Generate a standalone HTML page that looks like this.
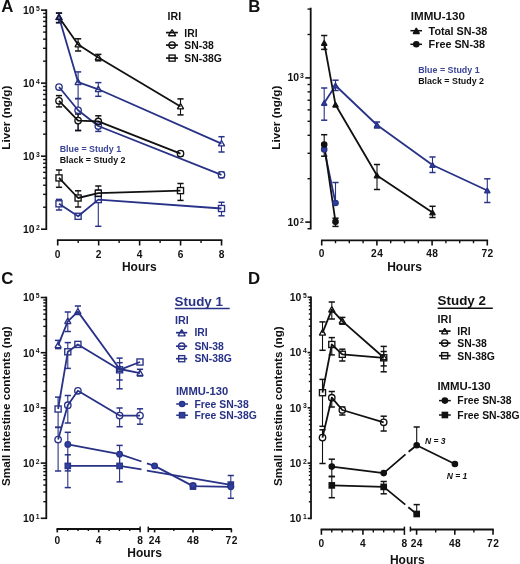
<!DOCTYPE html>
<html><head><meta charset="utf-8"><title>Figure</title>
<style>
html,body{margin:0;padding:0;background:#fff;}
body{width:520px;height:564px;overflow:hidden;}
svg{display:block;font-family:'Liberation Sans', Arial, Helvetica, sans-serif;}
</style></head>
<body>
<svg width="520" height="564" viewBox="0 0 520 564">
<rect width="520" height="564" fill="#fff"/>
<text x="1.2" y="11.9" font-size="16.8" font-weight="bold" text-anchor="start" fill="#111" >A</text>
<text transform="translate(10.3,149.8) rotate(-90)" font-size="11.8" font-weight="bold" fill="#111">Liver (ng/g)</text>
<line x1="46.3" y1="9.3" x2="46.3" y2="230" stroke="#111" stroke-width="1.8"/>
<line x1="41" y1="229.2" x2="46.3" y2="229.2" stroke="#111" stroke-width="1.6"/>
<line x1="41" y1="156.17" x2="46.3" y2="156.17" stroke="#111" stroke-width="1.6"/>
<line x1="41" y1="83.14" x2="46.3" y2="83.14" stroke="#111" stroke-width="1.6"/>
<line x1="41" y1="10.11" x2="46.3" y2="10.11" stroke="#111" stroke-width="1.6"/>
<line x1="43.1" y1="207.22" x2="46.3" y2="207.22" stroke="#111" stroke-width="1.4"/>
<line x1="43.1" y1="194.36" x2="46.3" y2="194.36" stroke="#111" stroke-width="1.4"/>
<line x1="43.1" y1="185.23" x2="46.3" y2="185.23" stroke="#111" stroke-width="1.4"/>
<line x1="43.1" y1="178.15" x2="46.3" y2="178.15" stroke="#111" stroke-width="1.4"/>
<line x1="43.1" y1="172.37" x2="46.3" y2="172.37" stroke="#111" stroke-width="1.4"/>
<line x1="43.1" y1="167.48" x2="46.3" y2="167.48" stroke="#111" stroke-width="1.4"/>
<line x1="43.1" y1="163.25" x2="46.3" y2="163.25" stroke="#111" stroke-width="1.4"/>
<line x1="43.1" y1="159.51" x2="46.3" y2="159.51" stroke="#111" stroke-width="1.4"/>
<line x1="43.1" y1="134.19" x2="46.3" y2="134.19" stroke="#111" stroke-width="1.4"/>
<line x1="43.1" y1="121.33" x2="46.3" y2="121.33" stroke="#111" stroke-width="1.4"/>
<line x1="43.1" y1="112.2" x2="46.3" y2="112.2" stroke="#111" stroke-width="1.4"/>
<line x1="43.1" y1="105.12" x2="46.3" y2="105.12" stroke="#111" stroke-width="1.4"/>
<line x1="43.1" y1="99.34" x2="46.3" y2="99.34" stroke="#111" stroke-width="1.4"/>
<line x1="43.1" y1="94.45" x2="46.3" y2="94.45" stroke="#111" stroke-width="1.4"/>
<line x1="43.1" y1="90.22" x2="46.3" y2="90.22" stroke="#111" stroke-width="1.4"/>
<line x1="43.1" y1="86.48" x2="46.3" y2="86.48" stroke="#111" stroke-width="1.4"/>
<line x1="43.1" y1="61.16" x2="46.3" y2="61.16" stroke="#111" stroke-width="1.4"/>
<line x1="43.1" y1="48.3" x2="46.3" y2="48.3" stroke="#111" stroke-width="1.4"/>
<line x1="43.1" y1="39.17" x2="46.3" y2="39.17" stroke="#111" stroke-width="1.4"/>
<line x1="43.1" y1="32.09" x2="46.3" y2="32.09" stroke="#111" stroke-width="1.4"/>
<line x1="43.1" y1="26.31" x2="46.3" y2="26.31" stroke="#111" stroke-width="1.4"/>
<line x1="43.1" y1="21.42" x2="46.3" y2="21.42" stroke="#111" stroke-width="1.4"/>
<line x1="43.1" y1="17.19" x2="46.3" y2="17.19" stroke="#111" stroke-width="1.4"/>
<line x1="43.1" y1="13.45" x2="46.3" y2="13.45" stroke="#111" stroke-width="1.4"/>
<text x="34.6" y="233" font-size="10.4" font-weight="bold" text-anchor="end" fill="#111" >10</text>
<text x="35.95" y="229.7" font-size="6.8" font-weight="bold" text-anchor="start" fill="#111" >2</text>
<text x="34.6" y="159.97" font-size="10.4" font-weight="bold" text-anchor="end" fill="#111" >10</text>
<text x="35.95" y="156.67" font-size="6.8" font-weight="bold" text-anchor="start" fill="#111" >3</text>
<text x="34.6" y="86.94" font-size="10.4" font-weight="bold" text-anchor="end" fill="#111" >10</text>
<text x="35.95" y="83.64" font-size="6.8" font-weight="bold" text-anchor="start" fill="#111" >4</text>
<text x="34.6" y="13.91" font-size="10.4" font-weight="bold" text-anchor="end" fill="#111" >10</text>
<text x="35.95" y="10.61" font-size="6.8" font-weight="bold" text-anchor="start" fill="#111" >5</text>
<line x1="56.9" y1="240.1" x2="222.3" y2="240.1" stroke="#111" stroke-width="1.8"/>
<line x1="57.7" y1="240.1" x2="57.7" y2="245.5" stroke="#111" stroke-width="1.6"/>
<line x1="98.66" y1="240.1" x2="98.66" y2="245.5" stroke="#111" stroke-width="1.6"/>
<line x1="139.62" y1="240.1" x2="139.62" y2="245.5" stroke="#111" stroke-width="1.6"/>
<line x1="180.58" y1="240.1" x2="180.58" y2="245.5" stroke="#111" stroke-width="1.6"/>
<line x1="221.54" y1="240.1" x2="221.54" y2="245.5" stroke="#111" stroke-width="1.6"/>
<line x1="78.18" y1="240.1" x2="78.18" y2="242.9" stroke="#111" stroke-width="1.4"/>
<line x1="119.14" y1="240.1" x2="119.14" y2="242.9" stroke="#111" stroke-width="1.4"/>
<line x1="160.1" y1="240.1" x2="160.1" y2="242.9" stroke="#111" stroke-width="1.4"/>
<line x1="201.06" y1="240.1" x2="201.06" y2="242.9" stroke="#111" stroke-width="1.4"/>
<text x="57.7" y="257.5" font-size="10.2" font-weight="bold" text-anchor="middle" fill="#111" >0</text>
<text x="98.66" y="257.5" font-size="10.2" font-weight="bold" text-anchor="middle" fill="#111" >2</text>
<text x="139.62" y="257.5" font-size="10.2" font-weight="bold" text-anchor="middle" fill="#111" >4</text>
<text x="180.58" y="257.5" font-size="10.2" font-weight="bold" text-anchor="middle" fill="#111" >6</text>
<text x="221.54" y="257.5" font-size="10.2" font-weight="bold" text-anchor="middle" fill="#111" >8</text>
<text x="139.3" y="271.4" font-size="12.0" font-weight="bold" text-anchor="middle" fill="#111" >Hours</text>
<line x1="59" y1="13.2" x2="59" y2="22.6" stroke="#283286" stroke-width="1.1"/>
<line x1="55.9" y1="13.2" x2="62.1" y2="13.2" stroke="#283286" stroke-width="1.5"/>
<line x1="55.9" y1="22.6" x2="62.1" y2="22.6" stroke="#283286" stroke-width="1.5"/>
<line x1="78.1" y1="71.9" x2="78.1" y2="98.6" stroke="#283286" stroke-width="1.1"/>
<line x1="75" y1="71.9" x2="81.2" y2="71.9" stroke="#283286" stroke-width="1.5"/>
<line x1="75" y1="98.6" x2="81.2" y2="98.6" stroke="#283286" stroke-width="1.5"/>
<line x1="78.1" y1="98.6" x2="78.1" y2="130.4" stroke="#283286" stroke-width="1.1"/>
<line x1="75" y1="98.6" x2="81.2" y2="98.6" stroke="#283286" stroke-width="1.5"/>
<line x1="75" y1="130.4" x2="81.2" y2="130.4" stroke="#283286" stroke-width="1.5"/>
<line x1="98.3" y1="82.6" x2="98.3" y2="96.3" stroke="#283286" stroke-width="1.1"/>
<line x1="95.2" y1="82.6" x2="101.4" y2="82.6" stroke="#283286" stroke-width="1.5"/>
<line x1="95.2" y1="96.3" x2="101.4" y2="96.3" stroke="#283286" stroke-width="1.5"/>
<line x1="98.3" y1="126" x2="98.3" y2="131.4" stroke="#283286" stroke-width="1.1"/>
<line x1="95.2" y1="126" x2="101.4" y2="126" stroke="#283286" stroke-width="1.5"/>
<line x1="95.2" y1="131.4" x2="101.4" y2="131.4" stroke="#283286" stroke-width="1.5"/>
<line x1="221.5" y1="136.7" x2="221.5" y2="152" stroke="#283286" stroke-width="1.1"/>
<line x1="218.4" y1="136.7" x2="224.6" y2="136.7" stroke="#283286" stroke-width="1.5"/>
<line x1="218.4" y1="152" x2="224.6" y2="152" stroke="#283286" stroke-width="1.5"/>
<line x1="221.5" y1="172" x2="221.5" y2="177.6" stroke="#283286" stroke-width="1.1"/>
<line x1="218.4" y1="172" x2="224.6" y2="172" stroke="#283286" stroke-width="1.5"/>
<line x1="218.4" y1="177.6" x2="224.6" y2="177.6" stroke="#283286" stroke-width="1.5"/>
<line x1="59" y1="199.4" x2="59" y2="210" stroke="#283286" stroke-width="1.1"/>
<line x1="55.9" y1="199.4" x2="62.1" y2="199.4" stroke="#283286" stroke-width="1.5"/>
<line x1="55.9" y1="210" x2="62.1" y2="210" stroke="#283286" stroke-width="1.5"/>
<line x1="78.1" y1="214" x2="78.1" y2="218.5" stroke="#283286" stroke-width="1.1"/>
<line x1="75" y1="214" x2="81.2" y2="214" stroke="#283286" stroke-width="1.5"/>
<line x1="75" y1="218.5" x2="81.2" y2="218.5" stroke="#283286" stroke-width="1.5"/>
<line x1="98.3" y1="190" x2="98.3" y2="226.3" stroke="#283286" stroke-width="1.1"/>
<line x1="95.2" y1="190" x2="101.4" y2="190" stroke="#283286" stroke-width="1.5"/>
<line x1="95.2" y1="226.3" x2="101.4" y2="226.3" stroke="#283286" stroke-width="1.5"/>
<line x1="221.5" y1="202.3" x2="221.5" y2="215.8" stroke="#283286" stroke-width="1.1"/>
<line x1="218.4" y1="202.3" x2="224.6" y2="202.3" stroke="#283286" stroke-width="1.5"/>
<line x1="218.4" y1="215.8" x2="224.6" y2="215.8" stroke="#283286" stroke-width="1.5"/>
<line x1="59" y1="13" x2="59" y2="22.7" stroke="#111" stroke-width="1.1"/>
<line x1="55.9" y1="13" x2="62.1" y2="13" stroke="#111" stroke-width="1.5"/>
<line x1="55.9" y1="22.7" x2="62.1" y2="22.7" stroke="#111" stroke-width="1.5"/>
<line x1="78.1" y1="38.8" x2="78.1" y2="51" stroke="#111" stroke-width="1.1"/>
<line x1="75" y1="38.8" x2="81.2" y2="38.8" stroke="#111" stroke-width="1.5"/>
<line x1="75" y1="51" x2="81.2" y2="51" stroke="#111" stroke-width="1.5"/>
<line x1="98.3" y1="54.4" x2="98.3" y2="60.8" stroke="#111" stroke-width="1.1"/>
<line x1="95.2" y1="54.4" x2="101.4" y2="54.4" stroke="#111" stroke-width="1.5"/>
<line x1="95.2" y1="60.8" x2="101.4" y2="60.8" stroke="#111" stroke-width="1.5"/>
<line x1="180.5" y1="98.9" x2="180.5" y2="114.9" stroke="#111" stroke-width="1.1"/>
<line x1="177.4" y1="98.9" x2="183.6" y2="98.9" stroke="#111" stroke-width="1.5"/>
<line x1="177.4" y1="114.9" x2="183.6" y2="114.9" stroke="#111" stroke-width="1.5"/>
<line x1="59" y1="95.6" x2="59" y2="106.9" stroke="#111" stroke-width="1.1"/>
<line x1="55.9" y1="95.6" x2="62.1" y2="95.6" stroke="#111" stroke-width="1.5"/>
<line x1="55.9" y1="106.9" x2="62.1" y2="106.9" stroke="#111" stroke-width="1.5"/>
<line x1="78.1" y1="114" x2="78.1" y2="130.6" stroke="#111" stroke-width="1.1"/>
<line x1="75" y1="114" x2="81.2" y2="114" stroke="#111" stroke-width="1.5"/>
<line x1="75" y1="130.6" x2="81.2" y2="130.6" stroke="#111" stroke-width="1.5"/>
<line x1="98.3" y1="115.8" x2="98.3" y2="127" stroke="#111" stroke-width="1.1"/>
<line x1="95.2" y1="115.8" x2="101.4" y2="115.8" stroke="#111" stroke-width="1.5"/>
<line x1="95.2" y1="127" x2="101.4" y2="127" stroke="#111" stroke-width="1.5"/>
<line x1="180.5" y1="151.5" x2="180.5" y2="155.7" stroke="#111" stroke-width="1.1"/>
<line x1="177.4" y1="151.5" x2="183.6" y2="151.5" stroke="#111" stroke-width="1.5"/>
<line x1="177.4" y1="155.7" x2="183.6" y2="155.7" stroke="#111" stroke-width="1.5"/>
<line x1="59" y1="170" x2="59" y2="187.3" stroke="#111" stroke-width="1.1"/>
<line x1="55.9" y1="170" x2="62.1" y2="170" stroke="#111" stroke-width="1.5"/>
<line x1="55.9" y1="187.3" x2="62.1" y2="187.3" stroke="#111" stroke-width="1.5"/>
<line x1="78.1" y1="190.8" x2="78.1" y2="207" stroke="#111" stroke-width="1.1"/>
<line x1="75" y1="190.8" x2="81.2" y2="190.8" stroke="#111" stroke-width="1.5"/>
<line x1="75" y1="207" x2="81.2" y2="207" stroke="#111" stroke-width="1.5"/>
<line x1="98.3" y1="186" x2="98.3" y2="201" stroke="#111" stroke-width="1.1"/>
<line x1="95.2" y1="186" x2="101.4" y2="186" stroke="#111" stroke-width="1.5"/>
<line x1="95.2" y1="201" x2="101.4" y2="201" stroke="#111" stroke-width="1.5"/>
<line x1="180.5" y1="183.5" x2="180.5" y2="200.4" stroke="#111" stroke-width="1.1"/>
<line x1="177.4" y1="183.5" x2="183.6" y2="183.5" stroke="#111" stroke-width="1.5"/>
<line x1="177.4" y1="200.4" x2="183.6" y2="200.4" stroke="#111" stroke-width="1.5"/>
<polygon points="78.1,79.07 81.2,84.47 75,84.47" stroke-linejoin="bevel" fill="#fff" stroke="none"/>
<polygon points="98.3,86.17 101.4,91.57 95.2,91.57" stroke-linejoin="bevel" fill="#fff" stroke="none"/>
<polygon points="221.5,140.47 224.6,145.87 218.4,145.87" stroke-linejoin="bevel" fill="#fff" stroke="none"/>
<circle cx="59" cy="87" r="3.2" fill="#fff" stroke="none"/>
<circle cx="78.1" cy="110.3" r="3.2" fill="#fff" stroke="none"/>
<circle cx="98.3" cy="126" r="3.2" fill="#fff" stroke="none"/>
<circle cx="221.5" cy="174.8" r="3.2" fill="#fff" stroke="none"/>
<rect x="55.95" y="200.75" width="6.1" height="6.1" fill="#fff" stroke="none"/>
<rect x="75.05" y="213.25" width="6.1" height="6.1" fill="#fff" stroke="none"/>
<rect x="95.25" y="196.55" width="6.1" height="6.1" fill="#fff" stroke="none"/>
<rect x="218.45" y="205.45" width="6.1" height="6.1" fill="#fff" stroke="none"/>
<polygon points="59,14.17 62.1,19.57 55.9,19.57" stroke-linejoin="bevel" fill="#fff" stroke="none"/>
<polygon points="78.1,41.47 81.2,46.87 75,46.87" stroke-linejoin="bevel" fill="#fff" stroke="none"/>
<polygon points="98.3,54.47 101.4,59.87 95.2,59.87" stroke-linejoin="bevel" fill="#fff" stroke="none"/>
<polygon points="180.5,103.47 183.6,108.87 177.4,108.87" stroke-linejoin="bevel" fill="#fff" stroke="none"/>
<circle cx="59" cy="100.8" r="3.2" fill="#fff" stroke="none"/>
<circle cx="78.1" cy="120.6" r="3.2" fill="#fff" stroke="none"/>
<circle cx="98.3" cy="121.4" r="3.2" fill="#fff" stroke="none"/>
<circle cx="180.5" cy="153.6" r="3.2" fill="#fff" stroke="none"/>
<rect x="55.95" y="174.85" width="6.1" height="6.1" fill="#fff" stroke="none"/>
<rect x="75.05" y="194.95" width="6.1" height="6.1" fill="#fff" stroke="none"/>
<rect x="95.25" y="190.15" width="6.1" height="6.1" fill="#fff" stroke="none"/>
<rect x="177.45" y="187.55" width="6.1" height="6.1" fill="#fff" stroke="none"/>
<polyline points="59,17.3 78.1,82.2 98.3,89.3 221.5,143.6" fill="none" stroke="#283286" stroke-width="1.8" stroke-linejoin="round"/>
<polyline points="59,87 78.1,110.3 98.3,126 221.5,174.8" fill="none" stroke="#283286" stroke-width="1.8" stroke-linejoin="round"/>
<polyline points="59,203.8 78.1,216.3 98.3,199.6 221.5,208.5" fill="none" stroke="#283286" stroke-width="1.8" stroke-linejoin="round"/>
<polyline points="59,17.3 78.1,44.6 98.3,57.6 180.5,106.6" fill="none" stroke="#111" stroke-width="1.8" stroke-linejoin="round"/>
<polyline points="59,100.8 78.1,120.6 98.3,121.4 180.5,153.6" fill="none" stroke="#111" stroke-width="1.8" stroke-linejoin="round"/>
<polyline points="59,177.9 78.1,198 98.3,193.2 180.5,190.6" fill="none" stroke="#111" stroke-width="1.8" stroke-linejoin="round"/>
<polygon points="78.1,79.07 81.2,84.47 75,84.47" stroke-linejoin="bevel" fill="none" stroke="#283286" stroke-width="1.35"/>
<polygon points="98.3,86.17 101.4,91.57 95.2,91.57" stroke-linejoin="bevel" fill="none" stroke="#283286" stroke-width="1.35"/>
<polygon points="221.5,140.47 224.6,145.87 218.4,145.87" stroke-linejoin="bevel" fill="none" stroke="#283286" stroke-width="1.35"/>
<circle cx="59" cy="87" r="3.2" fill="none" stroke="#283286" stroke-width="1.35"/>
<circle cx="78.1" cy="110.3" r="3.2" fill="none" stroke="#283286" stroke-width="1.35"/>
<circle cx="98.3" cy="126" r="3.2" fill="none" stroke="#283286" stroke-width="1.35"/>
<circle cx="221.5" cy="174.8" r="3.2" fill="none" stroke="#283286" stroke-width="1.35"/>
<rect x="55.95" y="200.75" width="6.1" height="6.1" fill="none" stroke="#283286" stroke-width="1.35"/>
<rect x="75.05" y="213.25" width="6.1" height="6.1" fill="none" stroke="#283286" stroke-width="1.35"/>
<rect x="95.25" y="196.55" width="6.1" height="6.1" fill="none" stroke="#283286" stroke-width="1.35"/>
<rect x="218.45" y="205.45" width="6.1" height="6.1" fill="none" stroke="#283286" stroke-width="1.35"/>
<polygon points="59,14.17 62.1,19.57 55.9,19.57" stroke-linejoin="bevel" fill="none" stroke="#283286" stroke-width="1.35"/>
<polygon points="78.1,41.47 81.2,46.87 75,46.87" stroke-linejoin="bevel" fill="none" stroke="#111" stroke-width="1.35"/>
<polygon points="98.3,54.47 101.4,59.87 95.2,59.87" stroke-linejoin="bevel" fill="none" stroke="#111" stroke-width="1.35"/>
<polygon points="180.5,103.47 183.6,108.87 177.4,108.87" stroke-linejoin="bevel" fill="none" stroke="#111" stroke-width="1.35"/>
<polygon points="59,14.6 61.6,19.3 56.4,19.3" fill="#7a7fb0" stroke="#15193f" stroke-width="1.5"/>
<circle cx="59" cy="100.8" r="3.2" fill="none" stroke="#111" stroke-width="1.35"/>
<circle cx="78.1" cy="120.6" r="3.2" fill="none" stroke="#111" stroke-width="1.35"/>
<circle cx="98.3" cy="121.4" r="3.2" fill="none" stroke="#111" stroke-width="1.35"/>
<circle cx="180.5" cy="153.6" r="3.2" fill="none" stroke="#111" stroke-width="1.35"/>
<rect x="55.95" y="174.85" width="6.1" height="6.1" fill="none" stroke="#111" stroke-width="1.35"/>
<rect x="75.05" y="194.95" width="6.1" height="6.1" fill="none" stroke="#111" stroke-width="1.35"/>
<rect x="95.25" y="190.15" width="6.1" height="6.1" fill="none" stroke="#111" stroke-width="1.35"/>
<rect x="177.45" y="187.55" width="6.1" height="6.1" fill="none" stroke="#111" stroke-width="1.35"/>
<text x="167.6" y="19.8" font-size="10.6" font-weight="bold" text-anchor="start" fill="#111" >IRI</text>
<text x="184.3" y="37.3" font-size="10.4" font-weight="bold" text-anchor="start" fill="#111" >IRI</text>
<text x="184.3" y="49.2" font-size="10.4" font-weight="bold" text-anchor="start" fill="#111" >SN-38</text>
<text x="184.3" y="61.9" font-size="10.4" font-weight="bold" text-anchor="start" fill="#111" >SN-38G</text>
<text x="59.7" y="152.3" font-size="8.9" font-weight="bold" text-anchor="start" fill="#3a4596" >Blue = Study 1</text>
<text x="59.7" y="162.7" font-size="8.9" font-weight="bold" text-anchor="start" fill="#111" >Black = Study 2</text>
<polygon points="172.1,29.5 175.66,35.7 168.53,35.7" stroke-linejoin="bevel" fill="#fff" stroke="none"/>
<circle cx="172.1" cy="45.1" r="3.2" fill="#fff" stroke="none"/>
<rect x="169.05" y="55.05" width="6.1" height="6.1" fill="#fff" stroke="none"/>
<line x1="166" y1="32.6" x2="177.9" y2="32.6" stroke="#111" stroke-width="1.7"/>
<line x1="166" y1="45.1" x2="177.9" y2="45.1" stroke="#111" stroke-width="1.7"/>
<line x1="166" y1="58.1" x2="177.9" y2="58.1" stroke="#111" stroke-width="1.7"/>
<polygon points="172.1,29.5 175.66,35.7 168.53,35.7" stroke-linejoin="bevel" fill="none" stroke="#111" stroke-width="1.35"/>
<circle cx="172.1" cy="45.1" r="3.2" fill="none" stroke="#111" stroke-width="1.35"/>
<rect x="169.05" y="55.05" width="6.1" height="6.1" fill="none" stroke="#111" stroke-width="1.35"/>
<text x="248.3" y="11.9" font-size="16.8" font-weight="bold" text-anchor="start" fill="#111" >B</text>
<text transform="translate(280.3,149.8) rotate(-90)" font-size="11.8" font-weight="bold" fill="#111">Liver (ng/g)</text>
<line x1="310.7" y1="7.7" x2="310.7" y2="229.5" stroke="#111" stroke-width="1.8"/>
<line x1="305.3" y1="222.1" x2="310.7" y2="222.1" stroke="#111" stroke-width="1.6"/>
<line x1="305.3" y1="77.9" x2="310.7" y2="77.9" stroke="#111" stroke-width="1.6"/>
<line x1="307.5" y1="228.7" x2="310.7" y2="228.7" stroke="#111" stroke-width="1.4"/>
<line x1="307.5" y1="178.69" x2="310.7" y2="178.69" stroke="#111" stroke-width="1.4"/>
<line x1="307.5" y1="153.3" x2="310.7" y2="153.3" stroke="#111" stroke-width="1.4"/>
<line x1="307.5" y1="135.28" x2="310.7" y2="135.28" stroke="#111" stroke-width="1.4"/>
<line x1="307.5" y1="121.31" x2="310.7" y2="121.31" stroke="#111" stroke-width="1.4"/>
<line x1="307.5" y1="109.89" x2="310.7" y2="109.89" stroke="#111" stroke-width="1.4"/>
<line x1="307.5" y1="100.24" x2="310.7" y2="100.24" stroke="#111" stroke-width="1.4"/>
<line x1="307.5" y1="91.87" x2="310.7" y2="91.87" stroke="#111" stroke-width="1.4"/>
<line x1="307.5" y1="84.5" x2="310.7" y2="84.5" stroke="#111" stroke-width="1.4"/>
<line x1="307.5" y1="34.49" x2="310.7" y2="34.49" stroke="#111" stroke-width="1.4"/>
<line x1="307.5" y1="9.1" x2="310.7" y2="9.1" stroke="#111" stroke-width="1.4"/>
<text x="299" y="81.4" font-size="10.4" font-weight="bold" text-anchor="end" fill="#111" >10</text>
<text x="300" y="78.3" font-size="6.8" font-weight="bold" text-anchor="start" fill="#111" >3</text>
<text x="299" y="225.6" font-size="10.4" font-weight="bold" text-anchor="end" fill="#111" >10</text>
<text x="300" y="222.5" font-size="6.8" font-weight="bold" text-anchor="start" fill="#111" >2</text>
<line x1="321" y1="240.3" x2="488.1" y2="240.3" stroke="#111" stroke-width="1.8"/>
<line x1="321.7" y1="240.3" x2="321.7" y2="245.5" stroke="#111" stroke-width="1.6"/>
<line x1="376.9" y1="240.3" x2="376.9" y2="245.5" stroke="#111" stroke-width="1.6"/>
<line x1="432.1" y1="240.3" x2="432.1" y2="245.5" stroke="#111" stroke-width="1.6"/>
<line x1="487.3" y1="240.3" x2="487.3" y2="245.5" stroke="#111" stroke-width="1.6"/>
<line x1="335.5" y1="240.3" x2="335.5" y2="243.2" stroke="#111" stroke-width="1.4"/>
<line x1="349.3" y1="240.3" x2="349.3" y2="243.2" stroke="#111" stroke-width="1.4"/>
<line x1="363.1" y1="240.3" x2="363.1" y2="243.2" stroke="#111" stroke-width="1.4"/>
<line x1="390.7" y1="240.3" x2="390.7" y2="243.2" stroke="#111" stroke-width="1.4"/>
<line x1="404.5" y1="240.3" x2="404.5" y2="243.2" stroke="#111" stroke-width="1.4"/>
<line x1="418.3" y1="240.3" x2="418.3" y2="243.2" stroke="#111" stroke-width="1.4"/>
<line x1="445.9" y1="240.3" x2="445.9" y2="243.2" stroke="#111" stroke-width="1.4"/>
<line x1="459.7" y1="240.3" x2="459.7" y2="243.2" stroke="#111" stroke-width="1.4"/>
<line x1="473.5" y1="240.3" x2="473.5" y2="243.2" stroke="#111" stroke-width="1.4"/>
<text x="321.7" y="257.1" font-size="10.2" font-weight="bold" text-anchor="middle" fill="#111" >0</text>
<text x="377.15" y="257.1" font-size="10.2" font-weight="bold" text-anchor="middle" fill="#111" letter-spacing="0.5">24</text>
<text x="432.35" y="257.1" font-size="10.2" font-weight="bold" text-anchor="middle" fill="#111" letter-spacing="0.5">48</text>
<text x="487.55" y="257.1" font-size="10.2" font-weight="bold" text-anchor="middle" fill="#111" letter-spacing="0.5">72</text>
<text x="404.5" y="271.4" font-size="12.0" font-weight="bold" text-anchor="middle" fill="#111" >Hours</text>
<line x1="324.2" y1="88" x2="324.2" y2="120.2" stroke="#283286" stroke-width="1.1"/>
<line x1="321.1" y1="88" x2="327.3" y2="88" stroke="#283286" stroke-width="1.5"/>
<line x1="321.1" y1="120.2" x2="327.3" y2="120.2" stroke="#283286" stroke-width="1.5"/>
<line x1="335.5" y1="80.2" x2="335.5" y2="90.5" stroke="#283286" stroke-width="1.1"/>
<line x1="332.4" y1="80.2" x2="338.6" y2="80.2" stroke="#283286" stroke-width="1.5"/>
<line x1="332.4" y1="90.5" x2="338.6" y2="90.5" stroke="#283286" stroke-width="1.5"/>
<line x1="377" y1="122" x2="377" y2="128" stroke="#283286" stroke-width="1.1"/>
<line x1="373.9" y1="122" x2="380.1" y2="122" stroke="#283286" stroke-width="1.5"/>
<line x1="373.9" y1="128" x2="380.1" y2="128" stroke="#283286" stroke-width="1.5"/>
<line x1="432.5" y1="157" x2="432.5" y2="172.5" stroke="#283286" stroke-width="1.1"/>
<line x1="429.4" y1="157" x2="435.6" y2="157" stroke="#283286" stroke-width="1.5"/>
<line x1="429.4" y1="172.5" x2="435.6" y2="172.5" stroke="#283286" stroke-width="1.5"/>
<line x1="487.3" y1="178.8" x2="487.3" y2="202.5" stroke="#283286" stroke-width="1.1"/>
<line x1="484.2" y1="178.8" x2="490.4" y2="178.8" stroke="#283286" stroke-width="1.5"/>
<line x1="484.2" y1="202.5" x2="490.4" y2="202.5" stroke="#283286" stroke-width="1.5"/>
<line x1="335.5" y1="182.5" x2="335.5" y2="203" stroke="#283286" stroke-width="1.1"/>
<line x1="332.4" y1="182.5" x2="338.6" y2="182.5" stroke="#283286" stroke-width="1.5"/>
<line x1="324.2" y1="35.5" x2="324.2" y2="49.4" stroke="#111" stroke-width="1.1"/>
<line x1="321.1" y1="35.5" x2="327.3" y2="35.5" stroke="#111" stroke-width="1.5"/>
<line x1="321.1" y1="49.4" x2="327.3" y2="49.4" stroke="#111" stroke-width="1.5"/>
<line x1="377" y1="164.5" x2="377" y2="189.5" stroke="#111" stroke-width="1.1"/>
<line x1="373.9" y1="164.5" x2="380.1" y2="164.5" stroke="#111" stroke-width="1.5"/>
<line x1="373.9" y1="189.5" x2="380.1" y2="189.5" stroke="#111" stroke-width="1.5"/>
<line x1="432.5" y1="206.3" x2="432.5" y2="217.5" stroke="#111" stroke-width="1.1"/>
<line x1="429.4" y1="206.3" x2="435.6" y2="206.3" stroke="#111" stroke-width="1.5"/>
<line x1="429.4" y1="217.5" x2="435.6" y2="217.5" stroke="#111" stroke-width="1.5"/>
<line x1="324.2" y1="134.7" x2="324.2" y2="156.2" stroke="#111" stroke-width="1.1"/>
<line x1="321.1" y1="134.7" x2="327.3" y2="134.7" stroke="#111" stroke-width="1.5"/>
<line x1="321.1" y1="156.2" x2="327.3" y2="156.2" stroke="#111" stroke-width="1.5"/>
<line x1="335.5" y1="218.2" x2="335.5" y2="226.4" stroke="#111" stroke-width="1.1"/>
<line x1="332.4" y1="218.2" x2="338.6" y2="218.2" stroke="#111" stroke-width="1.5"/>
<line x1="332.4" y1="226.4" x2="338.6" y2="226.4" stroke="#111" stroke-width="1.5"/>
<polyline points="324.2,103 335.5,85.5 377,125 432.5,165 487.3,190.5" fill="none" stroke="#283286" stroke-width="1.8" stroke-linejoin="round"/>
<polyline points="324.2,149.4 335.5,203" fill="none" stroke="#283286" stroke-width="1.8" stroke-linejoin="round"/>
<polyline points="324.2,43 335.5,104.7 377,175.5 432.5,212.5" fill="none" stroke="#111" stroke-width="1.8" stroke-linejoin="round"/>
<polyline points="324.2,144.5 335.5,221.8" fill="none" stroke="#111" stroke-width="1.8" stroke-linejoin="round"/>
<polygon points="324.2,100.54 326.93,105.3 321.47,105.3" stroke-linejoin="bevel" fill="#30409e" stroke="#283286" stroke-width="1.35"/>
<polygon points="335.5,83.04 338.23,87.8 332.77,87.8" stroke-linejoin="bevel" fill="#30409e" stroke="#283286" stroke-width="1.35"/>
<polygon points="377,122.54 379.73,127.3 374.27,127.3" stroke-linejoin="bevel" fill="#30409e" stroke="#283286" stroke-width="1.35"/>
<polygon points="432.5,162.54 435.23,167.3 429.77,167.3" stroke-linejoin="bevel" fill="#30409e" stroke="#283286" stroke-width="1.35"/>
<polygon points="487.3,188.04 490.03,192.8 484.57,192.8" stroke-linejoin="bevel" fill="#30409e" stroke="#283286" stroke-width="1.35"/>
<circle cx="324.2" cy="149.4" r="2.65" fill="#30409e" stroke="#283286" stroke-width="1.35"/>
<circle cx="335.5" cy="203" r="2.65" fill="#30409e" stroke="#283286" stroke-width="1.35"/>
<polygon points="324.2,40.54 326.93,45.3 321.47,45.3" stroke-linejoin="bevel" fill="#111" stroke="#111" stroke-width="1.35"/>
<polygon points="335.5,102.24 338.23,107 332.77,107" stroke-linejoin="bevel" fill="#111" stroke="#111" stroke-width="1.35"/>
<polygon points="377,173.04 379.73,177.8 374.27,177.8" stroke-linejoin="bevel" fill="#111" stroke="#111" stroke-width="1.35"/>
<polygon points="432.5,210.04 435.23,214.8 429.77,214.8" stroke-linejoin="bevel" fill="#111" stroke="#111" stroke-width="1.35"/>
<circle cx="324.2" cy="144.5" r="2.65" fill="#111" stroke="#111" stroke-width="1.35"/>
<circle cx="335.5" cy="221.8" r="2.65" fill="#111" stroke="#111" stroke-width="1.35"/>
<text x="410.8" y="19.6" font-size="11.6" font-weight="bold" text-anchor="start" fill="#111" >IMMU-130</text>
<text x="428.6" y="34.6" font-size="10.8" font-weight="bold" text-anchor="start" fill="#111" >Total SN-38</text>
<text x="428.6" y="48.2" font-size="10.8" font-weight="bold" text-anchor="start" fill="#111" >Free SN-38</text>
<text x="418.2" y="73.4" font-size="8.9" font-weight="bold" text-anchor="start" fill="#3a4596" >Blue = Study 1</text>
<text x="418.2" y="84.3" font-size="8.9" font-weight="bold" text-anchor="start" fill="#111" >Black = Study 2</text>
<line x1="410.4" y1="30.7" x2="422" y2="30.7" stroke="#111" stroke-width="1.5"/>
<line x1="410.4" y1="44.3" x2="422" y2="44.3" stroke="#111" stroke-width="1.5"/>
<polygon points="416.3,28.2 419.4,33.6 413.2,33.6" stroke-linejoin="bevel" fill="#111" stroke="#111" stroke-width="1.35"/>
<circle cx="416.3" cy="44.3" r="2.65" fill="#111" stroke="#111" stroke-width="1.35"/>
<text x="1.2" y="283.6" font-size="16.8" font-weight="bold" text-anchor="start" fill="#111" >C</text>
<text transform="translate(9.5,486) rotate(-90)" font-size="11.7" font-weight="bold" fill="#111">Small intestine contents (ng)</text>
<line x1="46.3" y1="296.7" x2="46.3" y2="519.1" stroke="#111" stroke-width="1.8"/>
<line x1="40.7" y1="518.3" x2="46.3" y2="518.3" stroke="#111" stroke-width="1.6"/>
<line x1="40.7" y1="463.1" x2="46.3" y2="463.1" stroke="#111" stroke-width="1.6"/>
<line x1="40.7" y1="407.9" x2="46.3" y2="407.9" stroke="#111" stroke-width="1.6"/>
<line x1="40.7" y1="352.7" x2="46.3" y2="352.7" stroke="#111" stroke-width="1.6"/>
<line x1="40.7" y1="297.5" x2="46.3" y2="297.5" stroke="#111" stroke-width="1.6"/>
<line x1="43.3" y1="501.68" x2="46.3" y2="501.68" stroke="#111" stroke-width="1.4"/>
<line x1="43.3" y1="491.96" x2="46.3" y2="491.96" stroke="#111" stroke-width="1.4"/>
<line x1="43.3" y1="485.07" x2="46.3" y2="485.07" stroke="#111" stroke-width="1.4"/>
<line x1="43.3" y1="479.72" x2="46.3" y2="479.72" stroke="#111" stroke-width="1.4"/>
<line x1="43.3" y1="475.35" x2="46.3" y2="475.35" stroke="#111" stroke-width="1.4"/>
<line x1="43.3" y1="471.65" x2="46.3" y2="471.65" stroke="#111" stroke-width="1.4"/>
<line x1="43.3" y1="468.45" x2="46.3" y2="468.45" stroke="#111" stroke-width="1.4"/>
<line x1="43.3" y1="465.63" x2="46.3" y2="465.63" stroke="#111" stroke-width="1.4"/>
<line x1="43.3" y1="446.48" x2="46.3" y2="446.48" stroke="#111" stroke-width="1.4"/>
<line x1="43.3" y1="436.76" x2="46.3" y2="436.76" stroke="#111" stroke-width="1.4"/>
<line x1="43.3" y1="429.87" x2="46.3" y2="429.87" stroke="#111" stroke-width="1.4"/>
<line x1="43.3" y1="424.52" x2="46.3" y2="424.52" stroke="#111" stroke-width="1.4"/>
<line x1="43.3" y1="420.15" x2="46.3" y2="420.15" stroke="#111" stroke-width="1.4"/>
<line x1="43.3" y1="416.45" x2="46.3" y2="416.45" stroke="#111" stroke-width="1.4"/>
<line x1="43.3" y1="413.25" x2="46.3" y2="413.25" stroke="#111" stroke-width="1.4"/>
<line x1="43.3" y1="410.43" x2="46.3" y2="410.43" stroke="#111" stroke-width="1.4"/>
<line x1="43.3" y1="391.28" x2="46.3" y2="391.28" stroke="#111" stroke-width="1.4"/>
<line x1="43.3" y1="381.56" x2="46.3" y2="381.56" stroke="#111" stroke-width="1.4"/>
<line x1="43.3" y1="374.67" x2="46.3" y2="374.67" stroke="#111" stroke-width="1.4"/>
<line x1="43.3" y1="369.32" x2="46.3" y2="369.32" stroke="#111" stroke-width="1.4"/>
<line x1="43.3" y1="364.95" x2="46.3" y2="364.95" stroke="#111" stroke-width="1.4"/>
<line x1="43.3" y1="361.25" x2="46.3" y2="361.25" stroke="#111" stroke-width="1.4"/>
<line x1="43.3" y1="358.05" x2="46.3" y2="358.05" stroke="#111" stroke-width="1.4"/>
<line x1="43.3" y1="355.23" x2="46.3" y2="355.23" stroke="#111" stroke-width="1.4"/>
<line x1="43.3" y1="336.08" x2="46.3" y2="336.08" stroke="#111" stroke-width="1.4"/>
<line x1="43.3" y1="326.36" x2="46.3" y2="326.36" stroke="#111" stroke-width="1.4"/>
<line x1="43.3" y1="319.47" x2="46.3" y2="319.47" stroke="#111" stroke-width="1.4"/>
<line x1="43.3" y1="314.12" x2="46.3" y2="314.12" stroke="#111" stroke-width="1.4"/>
<line x1="43.3" y1="309.75" x2="46.3" y2="309.75" stroke="#111" stroke-width="1.4"/>
<line x1="43.3" y1="306.05" x2="46.3" y2="306.05" stroke="#111" stroke-width="1.4"/>
<line x1="43.3" y1="302.85" x2="46.3" y2="302.85" stroke="#111" stroke-width="1.4"/>
<line x1="43.3" y1="300.03" x2="46.3" y2="300.03" stroke="#111" stroke-width="1.4"/>
<text x="34.5" y="522.1" font-size="10.4" font-weight="bold" text-anchor="end" fill="#111" >10</text>
<text x="35.85" y="518.8" font-size="6.8" font-weight="bold" text-anchor="start" fill="#111" >1</text>
<text x="34.5" y="466.9" font-size="10.4" font-weight="bold" text-anchor="end" fill="#111" >10</text>
<text x="35.85" y="463.6" font-size="6.8" font-weight="bold" text-anchor="start" fill="#111" >2</text>
<text x="34.5" y="411.7" font-size="10.4" font-weight="bold" text-anchor="end" fill="#111" >10</text>
<text x="35.85" y="408.4" font-size="6.8" font-weight="bold" text-anchor="start" fill="#111" >3</text>
<text x="34.5" y="356.5" font-size="10.4" font-weight="bold" text-anchor="end" fill="#111" >10</text>
<text x="35.85" y="353.2" font-size="6.8" font-weight="bold" text-anchor="start" fill="#111" >4</text>
<text x="34.5" y="301.3" font-size="10.4" font-weight="bold" text-anchor="end" fill="#111" >10</text>
<text x="35.85" y="298" font-size="6.8" font-weight="bold" text-anchor="start" fill="#111" >5</text>
<line x1="56.5" y1="529" x2="140.1" y2="529" stroke="#111" stroke-width="1.8"/>
<line x1="148.3" y1="529" x2="231.8" y2="529" stroke="#111" stroke-width="1.8"/>
<line x1="140.1" y1="526.6" x2="140.1" y2="532.2" stroke="#111" stroke-width="1.5"/>
<line x1="148.3" y1="526.6" x2="148.3" y2="532.2" stroke="#111" stroke-width="1.5"/>
<line x1="57.3" y1="529" x2="57.3" y2="532.4" stroke="#111" stroke-width="1.6"/>
<line x1="98.7" y1="529" x2="98.7" y2="532.4" stroke="#111" stroke-width="1.6"/>
<line x1="154.6" y1="529" x2="154.6" y2="532.4" stroke="#111" stroke-width="1.6"/>
<line x1="193" y1="529" x2="193" y2="532.4" stroke="#111" stroke-width="1.6"/>
<line x1="231.4" y1="529" x2="231.4" y2="532.4" stroke="#111" stroke-width="1.6"/>
<line x1="67.65" y1="529" x2="67.65" y2="531" stroke="#111" stroke-width="1.4"/>
<line x1="78" y1="529" x2="78" y2="531" stroke="#111" stroke-width="1.4"/>
<line x1="88.35" y1="529" x2="88.35" y2="531" stroke="#111" stroke-width="1.4"/>
<line x1="109.05" y1="529" x2="109.05" y2="531" stroke="#111" stroke-width="1.4"/>
<line x1="119.4" y1="529" x2="119.4" y2="531" stroke="#111" stroke-width="1.4"/>
<line x1="129.75" y1="529" x2="129.75" y2="531" stroke="#111" stroke-width="1.4"/>
<line x1="173.8" y1="529" x2="173.8" y2="531" stroke="#111" stroke-width="1.4"/>
<line x1="212.2" y1="529" x2="212.2" y2="531" stroke="#111" stroke-width="1.4"/>
<text x="57.3" y="543.6" font-size="10.2" font-weight="bold" text-anchor="middle" fill="#111" >0</text>
<text x="98.7" y="543.6" font-size="10.2" font-weight="bold" text-anchor="middle" fill="#111" >4</text>
<text x="140.1" y="543.6" font-size="10.2" font-weight="bold" text-anchor="middle" fill="#111" >8</text>
<text x="154.85" y="543.6" font-size="10.2" font-weight="bold" text-anchor="middle" fill="#111" letter-spacing="0.5">24</text>
<text x="193.25" y="543.6" font-size="10.2" font-weight="bold" text-anchor="middle" fill="#111" letter-spacing="0.5">48</text>
<text x="231.65" y="543.6" font-size="10.2" font-weight="bold" text-anchor="middle" fill="#111" letter-spacing="0.5">72</text>
<text x="144.6" y="556.6" font-size="12.0" font-weight="bold" text-anchor="middle" fill="#111" >Hours</text>
<line x1="58.1" y1="340.4" x2="58.1" y2="348.6" stroke="#283286" stroke-width="1.1"/>
<line x1="55" y1="340.4" x2="61.2" y2="340.4" stroke="#283286" stroke-width="1.5"/>
<line x1="55" y1="348.6" x2="61.2" y2="348.6" stroke="#283286" stroke-width="1.5"/>
<line x1="67.8" y1="312" x2="67.8" y2="331.5" stroke="#283286" stroke-width="1.1"/>
<line x1="64.7" y1="312" x2="70.9" y2="312" stroke="#283286" stroke-width="1.5"/>
<line x1="64.7" y1="331.5" x2="70.9" y2="331.5" stroke="#283286" stroke-width="1.5"/>
<line x1="77.9" y1="306" x2="77.9" y2="314.5" stroke="#283286" stroke-width="1.1"/>
<line x1="74.8" y1="306" x2="81" y2="306" stroke="#283286" stroke-width="1.5"/>
<line x1="74.8" y1="314.5" x2="81" y2="314.5" stroke="#283286" stroke-width="1.5"/>
<line x1="140" y1="369.3" x2="140" y2="376" stroke="#283286" stroke-width="1.1"/>
<line x1="136.9" y1="369.3" x2="143.1" y2="369.3" stroke="#283286" stroke-width="1.5"/>
<line x1="136.9" y1="376" x2="143.1" y2="376" stroke="#283286" stroke-width="1.5"/>
<line x1="119.6" y1="358.1" x2="119.6" y2="380" stroke="#283286" stroke-width="1.1"/>
<line x1="116.5" y1="358.1" x2="122.7" y2="358.1" stroke="#283286" stroke-width="1.5"/>
<line x1="116.5" y1="380" x2="122.7" y2="380" stroke="#283286" stroke-width="1.5"/>
<line x1="119.6" y1="362.7" x2="119.6" y2="388.8" stroke="#283286" stroke-width="1.1"/>
<line x1="116.5" y1="362.7" x2="122.7" y2="362.7" stroke="#283286" stroke-width="1.5"/>
<line x1="116.5" y1="388.8" x2="122.7" y2="388.8" stroke="#283286" stroke-width="1.5"/>
<line x1="58.1" y1="397.1" x2="58.1" y2="427.2" stroke="#283286" stroke-width="1.1"/>
<line x1="55" y1="397.1" x2="61.2" y2="397.1" stroke="#283286" stroke-width="1.5"/>
<line x1="55" y1="427.2" x2="61.2" y2="427.2" stroke="#283286" stroke-width="1.5"/>
<line x1="67.8" y1="342.6" x2="67.8" y2="368.4" stroke="#283286" stroke-width="1.1"/>
<line x1="64.7" y1="342.6" x2="70.9" y2="342.6" stroke="#283286" stroke-width="1.5"/>
<line x1="64.7" y1="368.4" x2="70.9" y2="368.4" stroke="#283286" stroke-width="1.5"/>
<line x1="58.1" y1="427.5" x2="58.1" y2="471" stroke="#283286" stroke-width="1.1"/>
<line x1="55" y1="427.5" x2="61.2" y2="427.5" stroke="#283286" stroke-width="1.5"/>
<line x1="55" y1="471" x2="61.2" y2="471" stroke="#283286" stroke-width="1.5"/>
<line x1="67.8" y1="395.5" x2="67.8" y2="423" stroke="#283286" stroke-width="1.1"/>
<line x1="64.7" y1="395.5" x2="70.9" y2="395.5" stroke="#283286" stroke-width="1.5"/>
<line x1="64.7" y1="423" x2="70.9" y2="423" stroke="#283286" stroke-width="1.5"/>
<line x1="119.6" y1="408" x2="119.6" y2="426.7" stroke="#283286" stroke-width="1.1"/>
<line x1="116.5" y1="408" x2="122.7" y2="408" stroke="#283286" stroke-width="1.5"/>
<line x1="116.5" y1="426.7" x2="122.7" y2="426.7" stroke="#283286" stroke-width="1.5"/>
<line x1="140" y1="408.8" x2="140" y2="424.2" stroke="#283286" stroke-width="1.1"/>
<line x1="136.9" y1="408.8" x2="143.1" y2="408.8" stroke="#283286" stroke-width="1.5"/>
<line x1="136.9" y1="424.2" x2="143.1" y2="424.2" stroke="#283286" stroke-width="1.5"/>
<line x1="67.8" y1="432.3" x2="67.8" y2="470.9" stroke="#283286" stroke-width="1.1"/>
<line x1="64.7" y1="432.3" x2="70.9" y2="432.3" stroke="#283286" stroke-width="1.5"/>
<line x1="64.7" y1="470.9" x2="70.9" y2="470.9" stroke="#283286" stroke-width="1.5"/>
<line x1="67.8" y1="454.8" x2="67.8" y2="487.6" stroke="#283286" stroke-width="1.1"/>
<line x1="64.7" y1="454.8" x2="70.9" y2="454.8" stroke="#283286" stroke-width="1.5"/>
<line x1="64.7" y1="487.6" x2="70.9" y2="487.6" stroke="#283286" stroke-width="1.5"/>
<line x1="119.6" y1="445.4" x2="119.6" y2="465" stroke="#283286" stroke-width="1.1"/>
<line x1="116.5" y1="445.4" x2="122.7" y2="445.4" stroke="#283286" stroke-width="1.5"/>
<line x1="116.5" y1="465" x2="122.7" y2="465" stroke="#283286" stroke-width="1.5"/>
<line x1="119.6" y1="454" x2="119.6" y2="481.9" stroke="#283286" stroke-width="1.1"/>
<line x1="116.5" y1="454" x2="122.7" y2="454" stroke="#283286" stroke-width="1.5"/>
<line x1="116.5" y1="481.9" x2="122.7" y2="481.9" stroke="#283286" stroke-width="1.5"/>
<line x1="230.8" y1="475.5" x2="230.8" y2="498.3" stroke="#283286" stroke-width="1.1"/>
<line x1="227.7" y1="475.5" x2="233.9" y2="475.5" stroke="#283286" stroke-width="1.5"/>
<line x1="227.7" y1="498.3" x2="233.9" y2="498.3" stroke="#283286" stroke-width="1.5"/>
<polygon points="58.1,342.27 61.2,347.67 55,347.67" stroke-linejoin="bevel" fill="#fff" stroke="none"/>
<polygon points="67.8,318.17 70.9,323.57 64.7,323.57" stroke-linejoin="bevel" fill="#fff" stroke="none"/>
<polygon points="77.9,308.47 81,313.87 74.8,313.87" stroke-linejoin="bevel" fill="#fff" stroke="none"/>
<polygon points="119.6,365.87 122.7,371.27 116.5,371.27" stroke-linejoin="bevel" fill="#fff" stroke="none"/>
<polygon points="140,370.07 143.1,375.47 136.9,375.47" stroke-linejoin="bevel" fill="#fff" stroke="none"/>
<rect x="55.05" y="405.95" width="6.1" height="6.1" fill="#fff" stroke="none"/>
<rect x="64.75" y="348.75" width="6.1" height="6.1" fill="#fff" stroke="none"/>
<rect x="74.85" y="341.35" width="6.1" height="6.1" fill="#fff" stroke="none"/>
<rect x="116.55" y="366.75" width="6.1" height="6.1" fill="#fff" stroke="none"/>
<rect x="136.95" y="358.95" width="6.1" height="6.1" fill="#fff" stroke="none"/>
<circle cx="58.1" cy="439.5" r="3.2" fill="#fff" stroke="none"/>
<circle cx="67.8" cy="405.2" r="3.2" fill="#fff" stroke="none"/>
<circle cx="77.9" cy="390.8" r="3.2" fill="#fff" stroke="none"/>
<circle cx="119.6" cy="415.6" r="3.2" fill="#fff" stroke="none"/>
<circle cx="140" cy="415.6" r="3.2" fill="#fff" stroke="none"/>
<polyline points="58.1,345.4 67.8,321.3 77.9,311.6 119.6,369 140,373.2" fill="none" stroke="#283286" stroke-width="1.8" stroke-linejoin="round"/>
<polyline points="58.1,409 67.8,351.8 77.9,344.4 119.6,369.8 140,362" fill="none" stroke="#283286" stroke-width="1.8" stroke-linejoin="round"/>
<polyline points="58.1,439.5 67.8,405.2 77.9,390.8 119.6,415.6 140,415.6" fill="none" stroke="#283286" stroke-width="1.8" stroke-linejoin="round"/>
<polyline points="67.8,444.4 119.6,454.2 141.5,461.5" fill="none" stroke="#283286" stroke-width="1.8" stroke-linejoin="round"/>
<polyline points="146.9,463.4 154.6,465.9 193,486.1 230.8,486.8" fill="none" stroke="#283286" stroke-width="1.8" stroke-linejoin="round"/>
<polyline points="67.8,465.9 119.6,465.9 141.5,469.4" fill="none" stroke="#283286" stroke-width="1.8" stroke-linejoin="round"/>
<polyline points="146.9,470.6 230.8,484.8" fill="none" stroke="#283286" stroke-width="1.8" stroke-linejoin="round"/>
<polygon points="58.1,342.27 61.2,347.67 55,347.67" stroke-linejoin="bevel" fill="none" stroke="#283286" stroke-width="1.35"/>
<polygon points="67.8,318.17 70.9,323.57 64.7,323.57" stroke-linejoin="bevel" fill="none" stroke="#283286" stroke-width="1.35"/>
<polygon points="77.9,308.47 81,313.87 74.8,313.87" stroke-linejoin="bevel" fill="none" stroke="#283286" stroke-width="1.35"/>
<polygon points="119.6,365.87 122.7,371.27 116.5,371.27" stroke-linejoin="bevel" fill="none" stroke="#283286" stroke-width="1.35"/>
<polygon points="140,370.07 143.1,375.47 136.9,375.47" stroke-linejoin="bevel" fill="none" stroke="#283286" stroke-width="1.35"/>
<rect x="55.05" y="405.95" width="6.1" height="6.1" fill="none" stroke="#283286" stroke-width="1.35"/>
<rect x="64.75" y="348.75" width="6.1" height="6.1" fill="none" stroke="#283286" stroke-width="1.35"/>
<rect x="74.85" y="341.35" width="6.1" height="6.1" fill="none" stroke="#283286" stroke-width="1.35"/>
<rect x="116.55" y="366.75" width="6.1" height="6.1" fill="none" stroke="#283286" stroke-width="1.35"/>
<rect x="136.95" y="358.95" width="6.1" height="6.1" fill="none" stroke="#283286" stroke-width="1.35"/>
<circle cx="58.1" cy="439.5" r="3.2" fill="none" stroke="#283286" stroke-width="1.35"/>
<circle cx="67.8" cy="405.2" r="3.2" fill="none" stroke="#283286" stroke-width="1.35"/>
<circle cx="77.9" cy="390.8" r="3.2" fill="none" stroke="#283286" stroke-width="1.35"/>
<circle cx="119.6" cy="415.6" r="3.2" fill="none" stroke="#283286" stroke-width="1.35"/>
<circle cx="140" cy="415.6" r="3.2" fill="none" stroke="#283286" stroke-width="1.35"/>
<rect x="65.15" y="463.25" width="5.3" height="5.3" fill="#30409e" stroke="#283286" stroke-width="1.35"/>
<rect x="116.95" y="463.25" width="5.3" height="5.3" fill="#30409e" stroke="#283286" stroke-width="1.35"/>
<rect x="190.35" y="483.95" width="5.3" height="5.3" fill="#30409e" stroke="#283286" stroke-width="1.35"/>
<rect x="228.15" y="481.95" width="5.3" height="5.3" fill="#30409e" stroke="#283286" stroke-width="1.35"/>
<circle cx="67.8" cy="444.4" r="2.78" fill="#30409e" stroke="#283286" stroke-width="1.35"/>
<circle cx="119.6" cy="454.2" r="2.78" fill="#30409e" stroke="#283286" stroke-width="1.35"/>
<circle cx="154.6" cy="465.9" r="2.78" fill="#30409e" stroke="#283286" stroke-width="1.35"/>
<circle cx="193" cy="485.5" r="2.78" fill="#30409e" stroke="#283286" stroke-width="1.35"/>
<circle cx="230.8" cy="486.8" r="2.78" fill="#30409e" stroke="#283286" stroke-width="1.35"/>
<text x="174.6" y="305.5" font-size="13.4" font-weight="bold" text-anchor="start" fill="#283286" >Study 1</text>
<line x1="174.8" y1="308.5" x2="229.7" y2="308.5" stroke="#283286" stroke-width="1.4"/>
<text x="175" y="323.5" font-size="10.8" font-weight="bold" text-anchor="start" fill="#283286" >IRI</text>
<text x="194.4" y="336.4" font-size="10.4" font-weight="bold" text-anchor="start" fill="#283286" >IRI</text>
<text x="194.4" y="349.9" font-size="10.4" font-weight="bold" text-anchor="start" fill="#283286" >SN-38</text>
<text x="194.4" y="362.4" font-size="10.4" font-weight="bold" text-anchor="start" fill="#283286" >SN-38G</text>
<text x="176" y="395.4" font-size="11.2" font-weight="bold" text-anchor="start" fill="#283286" >IMMU-130</text>
<text x="194.4" y="407.5" font-size="10.4" font-weight="bold" text-anchor="start" fill="#283286" >Free SN-38</text>
<text x="194.4" y="418.7" font-size="10.4" font-weight="bold" text-anchor="start" fill="#283286" >Free SN-38G</text>
<polygon points="181.7,329.59 185.26,335.81 178.13,335.81" stroke-linejoin="bevel" fill="#fff" stroke="none"/>
<circle cx="181.7" cy="346.2" r="3.2" fill="#fff" stroke="none"/>
<rect x="178.65" y="355.65" width="6.1" height="6.1" fill="#fff" stroke="none"/>
<line x1="176" y1="332.7" x2="187.2" y2="332.7" stroke="#283286" stroke-width="1.7"/>
<line x1="176" y1="346.2" x2="187.2" y2="346.2" stroke="#283286" stroke-width="1.7"/>
<line x1="176" y1="358.7" x2="187.2" y2="358.7" stroke="#283286" stroke-width="1.7"/>
<line x1="176.2" y1="404" x2="188" y2="404" stroke="#283286" stroke-width="1.5"/>
<line x1="176.2" y1="415.2" x2="188" y2="415.2" stroke="#283286" stroke-width="1.5"/>
<polygon points="181.7,329.59 185.26,335.81 178.13,335.81" stroke-linejoin="bevel" fill="none" stroke="#283286" stroke-width="1.35"/>
<circle cx="181.7" cy="346.2" r="3.2" fill="none" stroke="#283286" stroke-width="1.35"/>
<rect x="178.65" y="355.65" width="6.1" height="6.1" fill="none" stroke="#283286" stroke-width="1.35"/>
<circle cx="182.1" cy="404" r="2.65" fill="#30409e" stroke="#283286" stroke-width="1.35"/>
<rect x="179.45" y="412.55" width="5.3" height="5.3" fill="#30409e" stroke="#283286" stroke-width="1.35"/>
<text x="248" y="283.6" font-size="16.8" font-weight="bold" text-anchor="start" fill="#111" >D</text>
<text transform="translate(281.6,486) rotate(-90)" font-size="11.7" font-weight="bold" fill="#111">Small intestine contents (ng)</text>
<line x1="311" y1="296.5" x2="311" y2="519.2" stroke="#111" stroke-width="1.8"/>
<line x1="307.6" y1="518.4" x2="311" y2="518.4" stroke="#111" stroke-width="1.6"/>
<line x1="307.6" y1="463.12" x2="311" y2="463.12" stroke="#111" stroke-width="1.6"/>
<line x1="307.6" y1="407.84" x2="311" y2="407.84" stroke="#111" stroke-width="1.6"/>
<line x1="307.6" y1="352.56" x2="311" y2="352.56" stroke="#111" stroke-width="1.6"/>
<line x1="307.6" y1="297.28" x2="311" y2="297.28" stroke="#111" stroke-width="1.6"/>
<line x1="308.8" y1="501.76" x2="311" y2="501.76" stroke="#111" stroke-width="1.4"/>
<line x1="308.8" y1="492.02" x2="311" y2="492.02" stroke="#111" stroke-width="1.4"/>
<line x1="308.8" y1="485.12" x2="311" y2="485.12" stroke="#111" stroke-width="1.4"/>
<line x1="308.8" y1="479.76" x2="311" y2="479.76" stroke="#111" stroke-width="1.4"/>
<line x1="308.8" y1="475.38" x2="311" y2="475.38" stroke="#111" stroke-width="1.4"/>
<line x1="308.8" y1="471.68" x2="311" y2="471.68" stroke="#111" stroke-width="1.4"/>
<line x1="308.8" y1="468.48" x2="311" y2="468.48" stroke="#111" stroke-width="1.4"/>
<line x1="308.8" y1="465.65" x2="311" y2="465.65" stroke="#111" stroke-width="1.4"/>
<line x1="308.8" y1="446.48" x2="311" y2="446.48" stroke="#111" stroke-width="1.4"/>
<line x1="308.8" y1="436.74" x2="311" y2="436.74" stroke="#111" stroke-width="1.4"/>
<line x1="308.8" y1="429.84" x2="311" y2="429.84" stroke="#111" stroke-width="1.4"/>
<line x1="308.8" y1="424.48" x2="311" y2="424.48" stroke="#111" stroke-width="1.4"/>
<line x1="308.8" y1="420.1" x2="311" y2="420.1" stroke="#111" stroke-width="1.4"/>
<line x1="308.8" y1="416.4" x2="311" y2="416.4" stroke="#111" stroke-width="1.4"/>
<line x1="308.8" y1="413.2" x2="311" y2="413.2" stroke="#111" stroke-width="1.4"/>
<line x1="308.8" y1="410.37" x2="311" y2="410.37" stroke="#111" stroke-width="1.4"/>
<line x1="308.8" y1="391.2" x2="311" y2="391.2" stroke="#111" stroke-width="1.4"/>
<line x1="308.8" y1="381.46" x2="311" y2="381.46" stroke="#111" stroke-width="1.4"/>
<line x1="308.8" y1="374.56" x2="311" y2="374.56" stroke="#111" stroke-width="1.4"/>
<line x1="308.8" y1="369.2" x2="311" y2="369.2" stroke="#111" stroke-width="1.4"/>
<line x1="308.8" y1="364.82" x2="311" y2="364.82" stroke="#111" stroke-width="1.4"/>
<line x1="308.8" y1="361.12" x2="311" y2="361.12" stroke="#111" stroke-width="1.4"/>
<line x1="308.8" y1="357.92" x2="311" y2="357.92" stroke="#111" stroke-width="1.4"/>
<line x1="308.8" y1="355.09" x2="311" y2="355.09" stroke="#111" stroke-width="1.4"/>
<line x1="308.8" y1="335.92" x2="311" y2="335.92" stroke="#111" stroke-width="1.4"/>
<line x1="308.8" y1="326.18" x2="311" y2="326.18" stroke="#111" stroke-width="1.4"/>
<line x1="308.8" y1="319.28" x2="311" y2="319.28" stroke="#111" stroke-width="1.4"/>
<line x1="308.8" y1="313.92" x2="311" y2="313.92" stroke="#111" stroke-width="1.4"/>
<line x1="308.8" y1="309.54" x2="311" y2="309.54" stroke="#111" stroke-width="1.4"/>
<line x1="308.8" y1="305.84" x2="311" y2="305.84" stroke="#111" stroke-width="1.4"/>
<line x1="308.8" y1="302.64" x2="311" y2="302.64" stroke="#111" stroke-width="1.4"/>
<line x1="308.8" y1="299.81" x2="311" y2="299.81" stroke="#111" stroke-width="1.4"/>
<text x="301.4" y="522.2" font-size="10.4" font-weight="bold" text-anchor="end" fill="#111" >10</text>
<text x="302.9" y="518.9" font-size="6.8" font-weight="bold" text-anchor="start" fill="#111" >1</text>
<text x="301.4" y="466.92" font-size="10.4" font-weight="bold" text-anchor="end" fill="#111" >10</text>
<text x="302.9" y="463.62" font-size="6.8" font-weight="bold" text-anchor="start" fill="#111" >2</text>
<text x="301.4" y="411.64" font-size="10.4" font-weight="bold" text-anchor="end" fill="#111" >10</text>
<text x="302.9" y="408.34" font-size="6.8" font-weight="bold" text-anchor="start" fill="#111" >3</text>
<text x="301.4" y="356.36" font-size="10.4" font-weight="bold" text-anchor="end" fill="#111" >10</text>
<text x="302.9" y="353.06" font-size="6.8" font-weight="bold" text-anchor="start" fill="#111" >4</text>
<text x="301.4" y="301.08" font-size="10.4" font-weight="bold" text-anchor="end" fill="#111" >10</text>
<text x="302.9" y="297.78" font-size="6.8" font-weight="bold" text-anchor="start" fill="#111" >5</text>
<line x1="320.6" y1="529.5" x2="404.4" y2="529.5" stroke="#111" stroke-width="1.8"/>
<line x1="410.4" y1="529.5" x2="493.8" y2="529.5" stroke="#111" stroke-width="1.8"/>
<line x1="404.4" y1="526.6" x2="404.4" y2="534.9" stroke="#111" stroke-width="1.5"/>
<line x1="410.4" y1="526.6" x2="410.4" y2="531.6" stroke="#111" stroke-width="1.5"/>
<line x1="321.4" y1="529.5" x2="321.4" y2="534.8" stroke="#111" stroke-width="1.6"/>
<line x1="362.92" y1="529.5" x2="362.92" y2="534.8" stroke="#111" stroke-width="1.6"/>
<line x1="416.6" y1="529.5" x2="416.6" y2="534.8" stroke="#111" stroke-width="1.6"/>
<line x1="454.81" y1="529.5" x2="454.81" y2="534.8" stroke="#111" stroke-width="1.6"/>
<line x1="493.02" y1="529.5" x2="493.02" y2="534.8" stroke="#111" stroke-width="1.6"/>
<line x1="331.78" y1="529.5" x2="331.78" y2="532.4" stroke="#111" stroke-width="1.4"/>
<line x1="342.16" y1="529.5" x2="342.16" y2="532.4" stroke="#111" stroke-width="1.4"/>
<line x1="352.54" y1="529.5" x2="352.54" y2="532.4" stroke="#111" stroke-width="1.4"/>
<line x1="373.3" y1="529.5" x2="373.3" y2="532.4" stroke="#111" stroke-width="1.4"/>
<line x1="383.68" y1="529.5" x2="383.68" y2="532.4" stroke="#111" stroke-width="1.4"/>
<line x1="394.06" y1="529.5" x2="394.06" y2="532.4" stroke="#111" stroke-width="1.4"/>
<line x1="435.7" y1="529.5" x2="435.7" y2="532.4" stroke="#111" stroke-width="1.4"/>
<line x1="473.91" y1="529.5" x2="473.91" y2="532.4" stroke="#111" stroke-width="1.4"/>
<text x="321.4" y="546.6" font-size="10.2" font-weight="bold" text-anchor="middle" fill="#111" >0</text>
<text x="362.92" y="546.6" font-size="10.2" font-weight="bold" text-anchor="middle" fill="#111" >4</text>
<text x="404.44" y="546.6" font-size="10.2" font-weight="bold" text-anchor="middle" fill="#111" >8</text>
<text x="416.85" y="546.6" font-size="10.2" font-weight="bold" text-anchor="middle" fill="#111" letter-spacing="0.5">24</text>
<text x="455.06" y="546.6" font-size="10.2" font-weight="bold" text-anchor="middle" fill="#111" letter-spacing="0.5">48</text>
<text x="493.27" y="546.6" font-size="10.2" font-weight="bold" text-anchor="middle" fill="#111" letter-spacing="0.5">72</text>
<text x="407.3" y="564" font-size="12.0" font-weight="bold" text-anchor="middle" fill="#111" >Hours</text>
<text x="424.9" y="444.3" font-size="8.5" font-weight="bold" text-anchor="start" fill="#111" font-style="italic">N = 3</text>
<text x="446.7" y="479.1" font-size="8.5" font-weight="bold" text-anchor="start" fill="#111" font-style="italic">N = 1</text>
<line x1="322.5" y1="321.9" x2="322.5" y2="350.3" stroke="#111" stroke-width="1.1"/>
<line x1="319.4" y1="321.9" x2="325.6" y2="321.9" stroke="#111" stroke-width="1.5"/>
<line x1="319.4" y1="350.3" x2="325.6" y2="350.3" stroke="#111" stroke-width="1.5"/>
<line x1="331.8" y1="302" x2="331.8" y2="319" stroke="#111" stroke-width="1.1"/>
<line x1="328.7" y1="302" x2="334.9" y2="302" stroke="#111" stroke-width="1.5"/>
<line x1="328.7" y1="319" x2="334.9" y2="319" stroke="#111" stroke-width="1.5"/>
<line x1="342.3" y1="317.4" x2="342.3" y2="324.2" stroke="#111" stroke-width="1.1"/>
<line x1="339.2" y1="317.4" x2="345.4" y2="317.4" stroke="#111" stroke-width="1.5"/>
<line x1="339.2" y1="324.2" x2="345.4" y2="324.2" stroke="#111" stroke-width="1.5"/>
<line x1="383.7" y1="346.4" x2="383.7" y2="371.8" stroke="#111" stroke-width="1.1"/>
<line x1="380.6" y1="346.4" x2="386.8" y2="346.4" stroke="#111" stroke-width="1.5"/>
<line x1="380.6" y1="371.8" x2="386.8" y2="371.8" stroke="#111" stroke-width="1.5"/>
<line x1="383.7" y1="351.5" x2="383.7" y2="365.9" stroke="#111" stroke-width="1.1"/>
<line x1="380.6" y1="351.5" x2="386.8" y2="351.5" stroke="#111" stroke-width="1.5"/>
<line x1="380.6" y1="365.9" x2="386.8" y2="365.9" stroke="#111" stroke-width="1.5"/>
<line x1="322.5" y1="379.4" x2="322.5" y2="426.3" stroke="#111" stroke-width="1.1"/>
<line x1="319.4" y1="379.4" x2="325.6" y2="379.4" stroke="#111" stroke-width="1.5"/>
<line x1="319.4" y1="426.3" x2="325.6" y2="426.3" stroke="#111" stroke-width="1.5"/>
<line x1="331.8" y1="337.6" x2="331.8" y2="354.9" stroke="#111" stroke-width="1.1"/>
<line x1="328.7" y1="337.6" x2="334.9" y2="337.6" stroke="#111" stroke-width="1.5"/>
<line x1="328.7" y1="354.9" x2="334.9" y2="354.9" stroke="#111" stroke-width="1.5"/>
<line x1="342.3" y1="349.2" x2="342.3" y2="361" stroke="#111" stroke-width="1.1"/>
<line x1="339.2" y1="349.2" x2="345.4" y2="349.2" stroke="#111" stroke-width="1.5"/>
<line x1="339.2" y1="361" x2="345.4" y2="361" stroke="#111" stroke-width="1.5"/>
<line x1="322.5" y1="429.8" x2="322.5" y2="463.5" stroke="#111" stroke-width="1.1"/>
<line x1="319.4" y1="429.8" x2="325.6" y2="429.8" stroke="#111" stroke-width="1.5"/>
<line x1="319.4" y1="463.5" x2="325.6" y2="463.5" stroke="#111" stroke-width="1.5"/>
<line x1="331.8" y1="391.5" x2="331.8" y2="407" stroke="#111" stroke-width="1.1"/>
<line x1="328.7" y1="391.5" x2="334.9" y2="391.5" stroke="#111" stroke-width="1.5"/>
<line x1="328.7" y1="407" x2="334.9" y2="407" stroke="#111" stroke-width="1.5"/>
<line x1="342.3" y1="407" x2="342.3" y2="415" stroke="#111" stroke-width="1.1"/>
<line x1="339.2" y1="407" x2="345.4" y2="407" stroke="#111" stroke-width="1.5"/>
<line x1="339.2" y1="415" x2="345.4" y2="415" stroke="#111" stroke-width="1.5"/>
<line x1="383.7" y1="416.2" x2="383.7" y2="431" stroke="#111" stroke-width="1.1"/>
<line x1="380.6" y1="416.2" x2="386.8" y2="416.2" stroke="#111" stroke-width="1.5"/>
<line x1="380.6" y1="431" x2="386.8" y2="431" stroke="#111" stroke-width="1.5"/>
<line x1="331.8" y1="459.2" x2="331.8" y2="476.5" stroke="#111" stroke-width="1.1"/>
<line x1="328.7" y1="459.2" x2="334.9" y2="459.2" stroke="#111" stroke-width="1.5"/>
<line x1="328.7" y1="476.5" x2="334.9" y2="476.5" stroke="#111" stroke-width="1.5"/>
<line x1="331.8" y1="476.5" x2="331.8" y2="497.7" stroke="#111" stroke-width="1.1"/>
<line x1="328.7" y1="476.5" x2="334.9" y2="476.5" stroke="#111" stroke-width="1.5"/>
<line x1="328.7" y1="497.7" x2="334.9" y2="497.7" stroke="#111" stroke-width="1.5"/>
<line x1="383.7" y1="481.5" x2="383.7" y2="493.8" stroke="#111" stroke-width="1.1"/>
<line x1="380.6" y1="481.5" x2="386.8" y2="481.5" stroke="#111" stroke-width="1.5"/>
<line x1="380.6" y1="493.8" x2="386.8" y2="493.8" stroke="#111" stroke-width="1.5"/>
<line x1="416.7" y1="427" x2="416.7" y2="445.2" stroke="#111" stroke-width="1.1"/>
<line x1="413.6" y1="427" x2="419.8" y2="427" stroke="#111" stroke-width="1.5"/>
<line x1="416.7" y1="504.6" x2="416.7" y2="514" stroke="#111" stroke-width="1.1"/>
<line x1="413.6" y1="504.6" x2="419.8" y2="504.6" stroke="#111" stroke-width="1.5"/>
<polygon points="322.5,329.67 325.6,335.07 319.4,335.07" stroke-linejoin="bevel" fill="#fff" stroke="none"/>
<polygon points="331.8,306.57 334.9,311.97 328.7,311.97" stroke-linejoin="bevel" fill="#fff" stroke="none"/>
<polygon points="342.3,317.97 345.4,323.37 339.2,323.37" stroke-linejoin="bevel" fill="#fff" stroke="none"/>
<polygon points="383.7,354.37 386.8,359.77 380.6,359.77" stroke-linejoin="bevel" fill="#fff" stroke="none"/>
<rect x="319.45" y="389.65" width="6.1" height="6.1" fill="#fff" stroke="none"/>
<rect x="328.75" y="341.45" width="6.1" height="6.1" fill="#fff" stroke="none"/>
<rect x="339.25" y="351.25" width="6.1" height="6.1" fill="#fff" stroke="none"/>
<rect x="380.65" y="354.75" width="6.1" height="6.1" fill="#fff" stroke="none"/>
<circle cx="322.5" cy="437.6" r="3.2" fill="#fff" stroke="none"/>
<circle cx="331.8" cy="397.7" r="3.2" fill="#fff" stroke="none"/>
<circle cx="342.3" cy="410" r="3.2" fill="#fff" stroke="none"/>
<circle cx="383.7" cy="422.3" r="3.2" fill="#fff" stroke="none"/>
<polyline points="322.5,332.8 331.8,309.7 342.3,321.1 383.7,357.5" fill="none" stroke="#111" stroke-width="1.8" stroke-linejoin="round"/>
<polyline points="322.5,392.7 331.8,344.5 342.3,354.3 383.7,357.8" fill="none" stroke="#111" stroke-width="1.8" stroke-linejoin="round"/>
<polyline points="322.5,437.6 331.8,397.7 342.3,410 383.7,422.3" fill="none" stroke="#111" stroke-width="1.8" stroke-linejoin="round"/>
<polyline points="331.8,466.6 383.7,473.1 405.5,454.4" fill="none" stroke="#111" stroke-width="1.8" stroke-linejoin="round"/>
<polyline points="408.6,451.8 416.7,445.2 454.9,464" fill="none" stroke="#111" stroke-width="1.8" stroke-linejoin="round"/>
<polyline points="331.8,485.4 383.7,486.9 405.3,504.6" fill="none" stroke="#111" stroke-width="1.8" stroke-linejoin="round"/>
<polyline points="408.3,507.2 416.7,514" fill="none" stroke="#111" stroke-width="1.8" stroke-linejoin="round"/>
<polygon points="322.5,329.67 325.6,335.07 319.4,335.07" stroke-linejoin="bevel" fill="none" stroke="#111" stroke-width="1.35"/>
<polygon points="331.8,306.57 334.9,311.97 328.7,311.97" stroke-linejoin="bevel" fill="none" stroke="#111" stroke-width="1.35"/>
<polygon points="342.3,317.97 345.4,323.37 339.2,323.37" stroke-linejoin="bevel" fill="none" stroke="#111" stroke-width="1.35"/>
<polygon points="383.7,354.37 386.8,359.77 380.6,359.77" stroke-linejoin="bevel" fill="none" stroke="#111" stroke-width="1.35"/>
<rect x="319.45" y="389.65" width="6.1" height="6.1" fill="none" stroke="#111" stroke-width="1.35"/>
<rect x="328.75" y="341.45" width="6.1" height="6.1" fill="none" stroke="#111" stroke-width="1.35"/>
<rect x="339.25" y="351.25" width="6.1" height="6.1" fill="none" stroke="#111" stroke-width="1.35"/>
<rect x="380.65" y="354.75" width="6.1" height="6.1" fill="none" stroke="#111" stroke-width="1.35"/>
<circle cx="322.5" cy="437.6" r="3.2" fill="none" stroke="#111" stroke-width="1.35"/>
<circle cx="331.8" cy="397.7" r="3.2" fill="none" stroke="#111" stroke-width="1.35"/>
<circle cx="342.3" cy="410" r="3.2" fill="none" stroke="#111" stroke-width="1.35"/>
<circle cx="383.7" cy="422.3" r="3.2" fill="none" stroke="#111" stroke-width="1.35"/>
<circle cx="331.8" cy="466.6" r="2.65" fill="#111" stroke="#111" stroke-width="1.35"/>
<circle cx="383.7" cy="473.1" r="2.65" fill="#111" stroke="#111" stroke-width="1.35"/>
<circle cx="416.7" cy="445.2" r="2.65" fill="#111" stroke="#111" stroke-width="1.35"/>
<circle cx="454.9" cy="464" r="2.65" fill="#111" stroke="#111" stroke-width="1.35"/>
<rect x="329.15" y="482.75" width="5.3" height="5.3" fill="#111" stroke="#111" stroke-width="1.35"/>
<rect x="381.05" y="484.25" width="5.3" height="5.3" fill="#111" stroke="#111" stroke-width="1.35"/>
<rect x="414.05" y="511.35" width="5.3" height="5.3" fill="#111" stroke="#111" stroke-width="1.35"/>
<text x="437.6" y="305" font-size="13.4" font-weight="bold" text-anchor="start" fill="#111" >Study 2</text>
<line x1="437.6" y1="308.2" x2="492.8" y2="308.2" stroke="#111" stroke-width="1.4"/>
<text x="437.6" y="322.6" font-size="10.8" font-weight="bold" text-anchor="start" fill="#111" >IRI</text>
<text x="457.3" y="335.1" font-size="10.4" font-weight="bold" text-anchor="start" fill="#111" >IRI</text>
<text x="457.3" y="346.9" font-size="10.4" font-weight="bold" text-anchor="start" fill="#111" >SN-38</text>
<text x="457.3" y="359.8" font-size="10.4" font-weight="bold" text-anchor="start" fill="#111" >SN-38G</text>
<text x="437.4" y="390.3" font-size="11.4" font-weight="bold" text-anchor="start" fill="#111" >IMMU-130</text>
<text x="457.3" y="404.2" font-size="10.4" font-weight="bold" text-anchor="start" fill="#111" >Free SN-38</text>
<text x="457.3" y="418.6" font-size="10.4" font-weight="bold" text-anchor="start" fill="#111" >Free SN-38G</text>
<polygon points="444.7,328.4 447.8,333.8 441.6,333.8" stroke-linejoin="bevel" fill="#fff" stroke="none"/>
<circle cx="444.7" cy="343.1" r="3.2" fill="#fff" stroke="none"/>
<rect x="441.65" y="352.65" width="6.1" height="6.1" fill="#fff" stroke="none"/>
<line x1="439" y1="331.1" x2="450.6" y2="331.1" stroke="#111" stroke-width="1.7"/>
<line x1="439" y1="343.1" x2="450.6" y2="343.1" stroke="#111" stroke-width="1.7"/>
<line x1="439" y1="355.7" x2="450.6" y2="355.7" stroke="#111" stroke-width="1.7"/>
<line x1="439" y1="400.6" x2="450.8" y2="400.6" stroke="#111" stroke-width="1.5"/>
<line x1="439" y1="415" x2="450.8" y2="415" stroke="#111" stroke-width="1.5"/>
<polygon points="444.7,328.4 447.8,333.8 441.6,333.8" stroke-linejoin="bevel" fill="none" stroke="#111" stroke-width="1.35"/>
<circle cx="444.7" cy="343.1" r="3.2" fill="none" stroke="#111" stroke-width="1.35"/>
<rect x="441.65" y="352.65" width="6.1" height="6.1" fill="none" stroke="#111" stroke-width="1.35"/>
<circle cx="444.9" cy="400.6" r="2.65" fill="#111" stroke="#111" stroke-width="1.35"/>
<rect x="442.25" y="412.35" width="5.3" height="5.3" fill="#111" stroke="#111" stroke-width="1.35"/>
</svg>
</body></html>
